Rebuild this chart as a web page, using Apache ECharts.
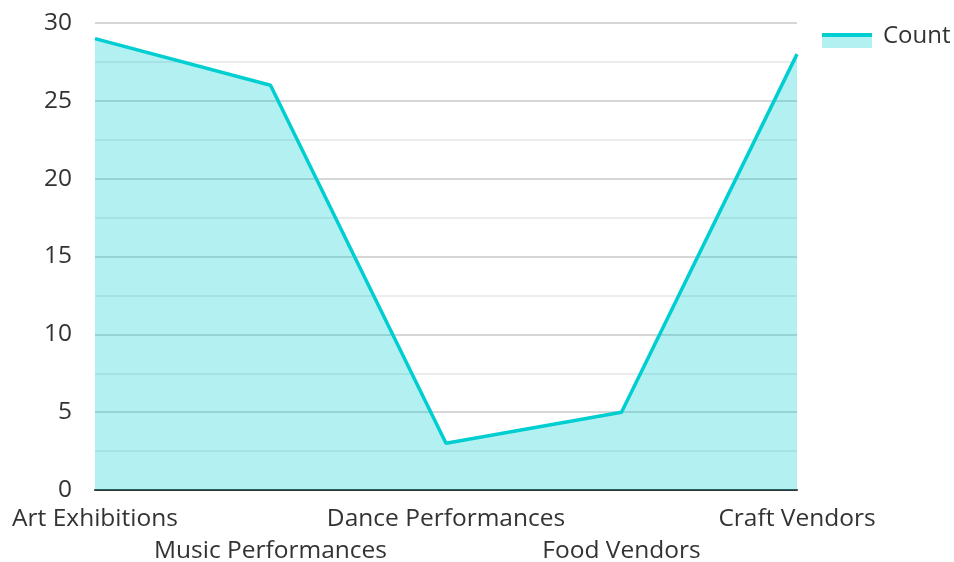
<!DOCTYPE html>
<html><head><meta charset="utf-8">
<script src="https://cdn.jsdelivr.net/npm/echarts@6/dist/echarts.min.js"></script>
<style>html,body{margin:0;padding:0;background:#fff}#c{width:954px;height:562px}</style>
</head><body><div id="c"></div>
<script>
const categories = ['Art Exhibitions','Music Performances','Dance Performances','Food Vendors','Craft Vendors'];
const counts = [29, 26, 3, 5, 28];
const seriesName = 'Count';

const lineColor = '#00CED1';
const areaColor = 'rgba(0,206,209,0.3)';
const chart = echarts.init(document.getElementById('c'), null, {renderer:'canvas'});
chart.setOption({
  animation:false,
  textStyle:{fontFamily:'"Open Sans", sans-serif'},
  grid:{left:95, right:157, top:23, bottom:72, outerBoundsMode:'none', containLabel:false},
  legend:{
    data:[{name:seriesName, icon:'rect', itemStyle:{
      color:new echarts.graphic.LinearGradient(0,0,0,1,[
        {offset:0,color:'rgba(255,255,255,0)'},{offset:0.39,color:'rgba(255,255,255,0)'},
        {offset:0.39,color:lineColor},{offset:0.545,color:lineColor},
        {offset:0.545,color:areaColor},{offset:1,color:areaColor}])
    }}],
    left:822, top:24, itemWidth:50, itemHeight:24, padding:0,
    textStyle:{fontSize:24, color:'#333', fontFamily:'"Open Sans", sans-serif', padding:[0,0,0,6]}
  },
  xAxis:{
    type:'category', data:categories, boundaryGap:false,
    axisLine:{lineStyle:{color:'#333', width:2}},
    axisTick:{show:false},
    axisLabel:{
      interval:0, fontSize:24.5, color:'#333', margin:13, lineHeight:32,
      formatter:(v, i)=> i % 2 ? '\n' + v : v
    }
  },
  yAxis:{
    type:'value', min:0, max:30, interval:5,
    axisLine:{show:false}, axisTick:{show:false},
    axisLabel:{fontSize:24.5, color:'#333', margin:23},
    splitLine:{lineStyle:{color:'#c8c8c8', width:1.5}},
    minorTick:{show:false, splitNumber:2},
    minorSplitLine:{show:true, lineStyle:{color:'#e6e6e6', width:1.5}}
  },
  series:[{
    name:seriesName, type:'line', data:counts, symbol:'none',
    lineStyle:{color:lineColor, width:3.5},
    itemStyle:{color:lineColor},
    areaStyle:{color:lineColor, opacity:0.3}
  }]
});
</script></body></html>
